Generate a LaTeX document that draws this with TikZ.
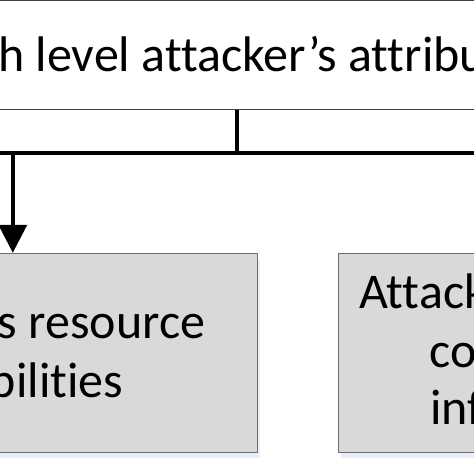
\documentclass[tikz,border=0pt]{standalone}
\usepackage{fontspec}
\setmainfont{Carlito}[Ligatures=NoCommon]
\usetikzlibrary{arrows.meta}
\definecolor{boxfill}{HTML}{D9D9D9}
\definecolor{boxline}{HTML}{6E6E6E}
\definecolor{topline}{HTML}{404040}
\definecolor{glow}{HTML}{E8EFF8}
\tikzset{
  x=1pt, y=1pt,
  topbox/.style={draw=topline, line width=1pt, fill=white, minimum width=600pt, minimum height=109pt, inner sep=0pt},
  childbox/.style={draw=boxline, line width=1pt, fill=boxfill, minimum width=489pt, minimum height=199pt, inner sep=0pt},
  txt/.style={font=\fontsize{50}{58.5}\selectfont, inner sep=0pt},
  bar/.style={line width=3.5pt, black},
  arrowline/.style={line width=3.5pt, black, -{Triangle[width=28pt,length=28pt]}, shorten >=0pt},
}
\begin{document}
\begin{tikzpicture}
\useasboundingbox (0,0) rectangle (474,-474);
\clip (0,0) rectangle (474,-474);
\fill[white] (0,0) rectangle (474,-474);
% shadows
\fill[glow] (-231+3,-253.3-6) rectangle (257.3+3,-452.3-6);
\fill[glow] (338.3+3,-253.3-6) rectangle (827.3+3,-452.3-6);
% boxes
\node[topbox] (top) at (237,-55.2) {};
\node[childbox] (left) at (12.8,-352.8) {};
\node[childbox] (right) at (582.8,-352.8) {};
% texts
\node[txt, anchor=base west] (ttop) at (-2,-71) {h level attacker’s attribu};
\node[txt, anchor=base east] (tl1) at (205.5,-338) {s resource};
\node[txt, anchor=base east] (tl2) at (123.5,-397) {bilities};
\node[txt, anchor=base west] (tr1) at (359,-308) {Attack};
\node[txt, anchor=base west] (tr2) at (429.5,-367) {co};
\node[txt, anchor=base west] (tr3) at (430,-424) {inf};
% connectors
\coordinate (j) at (237,-153);
\coordinate (farleft) at (-100,-153);
\draw[bar] (top.south) -- (j);
\draw[bar] (farleft) -- (right.north |- j);
\draw[arrowline] (left.north |- j) -- (left.north);
\end{tikzpicture}
\end{document}
